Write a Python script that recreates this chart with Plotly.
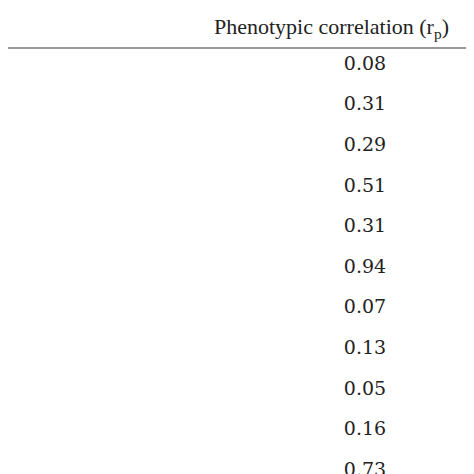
import plotly.graph_objects as go

header = "Phenotypic correlation (r<sub>p</sub>)"
values = ["0.08", "0.31", "0.29", "0.51", "0.31", "0.94", "0.07", "0.13", "0.05", "0.16", "0.73"]
rows = list(range(len(values)))

fig = go.Figure()
fig.add_trace(go.Scatter(
    x=[357] * len(values),
    y=[57 + 40.6 * r for r in rows],
    mode="text",
    text=values,
    textposition="middle center",
    textfont=dict(family="DejaVu Serif, Liberation Serif, serif", size=19, color="#222"),
    hoverinfo="skip",
    cliponaxis=False,
))

fig.add_annotation(x=204, y=20, xref="x", yref="y", text=header, showarrow=False,
                   xanchor="left", yanchor="middle",
                   font=dict(family="Liberation Serif, DejaVu Serif, serif", size=22, color="#222"))
fig.add_shape(type="line", x0=-10, x1=490, y0=40, y1=40, xref="x", yref="y",
              line=dict(color="#333", width=1.2))

fig.update_xaxes(range=[0, 474], visible=False)
fig.update_yaxes(range=[474, 0], visible=False)
fig.update_layout(width=474, height=474, margin=dict(l=0, r=0, t=0, b=0, pad=0),
                  plot_bgcolor="white", paper_bgcolor="white", showlegend=False)
fig.write_html("out.html", config={"displayModeBar": False})
